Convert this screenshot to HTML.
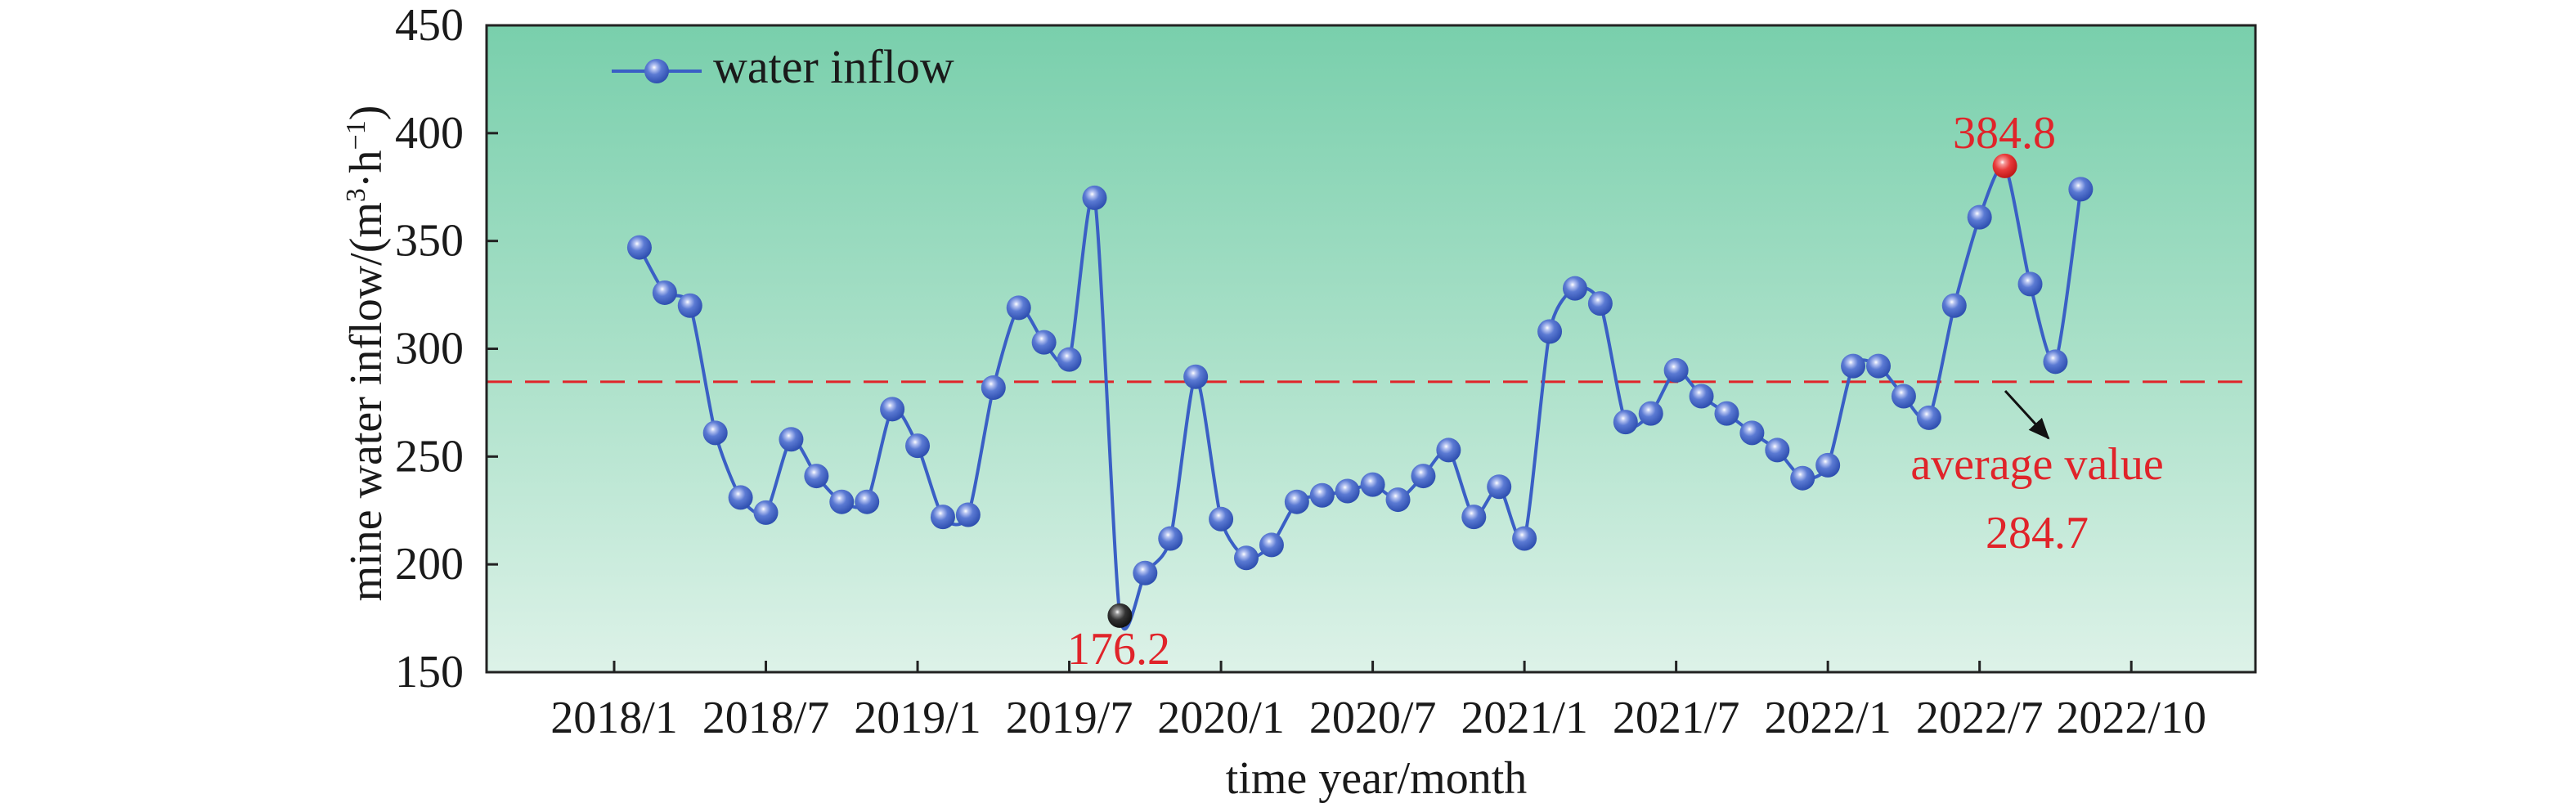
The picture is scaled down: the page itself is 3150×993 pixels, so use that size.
<!DOCTYPE html>
<html><head><meta charset="utf-8"><style>
html,body{margin:0;padding:0;background:#fff;}
svg{display:block;font-family:"Liberation Serif","Times New Roman",serif;}
</style></head><body>
<svg id="chart" width="3150" height="993" viewBox="0 0 3150 993" xmlns="http://www.w3.org/2000/svg">
<defs>
<linearGradient id="bg" x1="0" y1="0" x2="0" y2="1">
<stop offset="0" stop-color="#79cfac"/>
<stop offset="0.5" stop-color="#a9e0c8"/>
<stop offset="1" stop-color="#ddf2e8"/>
</linearGradient>
<radialGradient id="ball" cx="0.4" cy="0.35" r="0.65">
<stop offset="0" stop-color="#ffffff"/>
<stop offset="0.15" stop-color="#b9c6f2"/>
<stop offset="0.45" stop-color="#5b7ad3"/>
<stop offset="1" stop-color="#2e4fb0"/>
</radialGradient>
<radialGradient id="ballBlack" cx="0.4" cy="0.35" r="0.65">
<stop offset="0" stop-color="#ffffff"/>
<stop offset="0.15" stop-color="#999"/>
<stop offset="0.5" stop-color="#333"/>
<stop offset="1" stop-color="#111"/>
</radialGradient>
<radialGradient id="ballRed" cx="0.4" cy="0.35" r="0.65">
<stop offset="0" stop-color="#ffffff"/>
<stop offset="0.15" stop-color="#f59a9a"/>
<stop offset="0.5" stop-color="#e83a3a"/>
<stop offset="1" stop-color="#c01818"/>
</radialGradient>
<marker id="arrowhead" markerWidth="26" markerHeight="22" refX="24" refY="11" orient="auto" markerUnits="userSpaceOnUse" viewBox="0 0 26 22">
<path d="M0,0 L26,11 L0,22 z" fill="#111"/>
</marker>
</defs>
<rect x="595" y="31" width="2163" height="791" fill="url(#bg)"/>
<g id="grid"></g>
<g id="series"></g>
<rect x="595" y="31" width="2163" height="791" fill="none" stroke="#222" stroke-width="3"/>
<g id="axes"></g>
<g>
<line x1="748" y1="87" x2="858" y2="87" stroke="#3a5fc5" stroke-width="4"/>
<circle cx="803" cy="87" r="15" fill="url(#ball)"/>
<text x="872" y="101" font-size="58" fill="#1a1a1a">water inflow</text>
</g>
<text transform="translate(466,432) rotate(-90)" text-anchor="middle" font-size="56" fill="#1a1a1a">mine water inflow/(m<tspan font-size="34" dy="-20">3</tspan><tspan dy="20">·h</tspan><tspan font-size="34" dy="-20">−1</tspan><tspan dy="20">)</tspan></text>
<text x="1683" y="970" text-anchor="middle" font-size="56" fill="#1a1a1a">time year/month</text>
<text x="1368" y="812" text-anchor="middle" font-size="56" fill="#e0242a">176.2</text>
<text x="2451" y="181" text-anchor="middle" font-size="56" fill="#e0242a">384.8</text>
<text x="2491" y="586" text-anchor="middle" font-size="56" fill="#e0242a">average value</text>
<text x="2491" y="670" text-anchor="middle" font-size="56" fill="#e0242a">284.7</text>
<line x1="2452" y1="478" x2="2505" y2="536" stroke="#111" stroke-width="3" marker-end="url(#arrowhead)"/>
</svg>
<script>
const values = [347,326,320,261,231,224,258,241,229,229,272,255,222,223,282,319,303,295,370,176.2,196,212,287,221,203,209,229,232,234,237,230,241,253,222,236,212,308,328,321,266,270,290,278,270,261,253,240,246,292,292,278,268,320,361,384.8,330,294,374];
const firstMonthIndex = 1;
const tickLabels = ["2018/1","2018/7","2019/1","2019/7","2020/1","2020/7","2021/1","2021/7","2022/1","2022/7","2022/10"];
const tickMonths = [0,6,12,18,24,30,36,42,48,54,60];
const yTicks = [150,200,250,300,350,400,450];
const averageValue = [284.7];

const NS = "http://www.w3.org/2000/svg";
const X0 = 751, DX = 30.92, YB = 822, YT = 31, YMIN = 150, YMAX = 450;
function xOf(m){ return X0 + m*DX; }
function yOf(v){ return YB - (v-YMIN)/(YMAX-YMIN)*(YB-YT); }
function mk(tag, attrs, parent){
  const e = document.createElementNS(NS, tag);
  for (const k in attrs) e.setAttribute(k, attrs[k]);
  parent.appendChild(e); return e;
}
const axes = document.getElementById('axes');
const series = document.getElementById('series');
const grid = document.getElementById('grid');

yTicks.forEach(v=>{
  const y = yOf(v);
  if (v>YMIN && v<YMAX){
    const t = mk('line',{x1:595,y1:y,x2:609,y2:y,stroke:'#222','stroke-width':3},axes);
    
    
  }
  const l = mk('text',{x:567,y:y+18,'text-anchor':'end','font-size':56,fill:'#1a1a1a'},axes);
  l.textContent = v;
  
  
});
tickMonths.forEach((m,i)=>{
  const x = xOf(m);
  const t = mk('line',{x1:x,y1:822,x2:x,y2:808,stroke:'#222','stroke-width':3},axes);
  
  
  const l = mk('text',{x:x,y:896,'text-anchor':'middle','font-size':56,fill:'#1a1a1a'},axes);
  l.textContent = tickLabels[i];
  
  
});

const ay = yOf(averageValue[0]);
const avg = mk('line',{x1:596,y1:ay,x2:2757,y2:ay,stroke:'#e0242a','stroke-width':3,'stroke-dasharray':'30 16'},grid);



const pts = values.map((v,i)=>[xOf(firstMonthIndex+i), yOf(v)]);
let d = 'M'+pts[0][0]+','+pts[0][1];
const tension = 0.35;
for (let i=0;i<pts.length-1;i++){
  const p0 = pts[Math.max(0,i-1)], p1 = pts[i], p2 = pts[i+1], p3 = pts[Math.min(pts.length-1,i+2)];
  const c1x = p1[0] + (p2[0]-p0[0])*tension/3, c1y = p1[1] + (p2[1]-p0[1])*tension/3;
  const c2x = p2[0] - (p3[0]-p1[0])*tension/3, c2y = p2[1] - (p3[1]-p1[1])*tension/3;
  d += ' C'+c1x+','+c1y+' '+c2x+','+c2y+' '+p2[0]+','+p2[1];
}
const path = mk('path',{d:d,fill:'none',stroke:'#3a5fc5','stroke-width':4},series);



const vmin = Math.min(...values), vmax = Math.max(...values);
values.forEach((v,i)=>{
  const fill = v===vmin ? 'url(#ballBlack)' : (v===vmax ? 'url(#ballRed)' : 'url(#ball)');
  const c = mk('circle',{cx:pts[i][0],cy:pts[i][1],r:15,fill:fill},series);
  
  
});
</script>
</body></html>
